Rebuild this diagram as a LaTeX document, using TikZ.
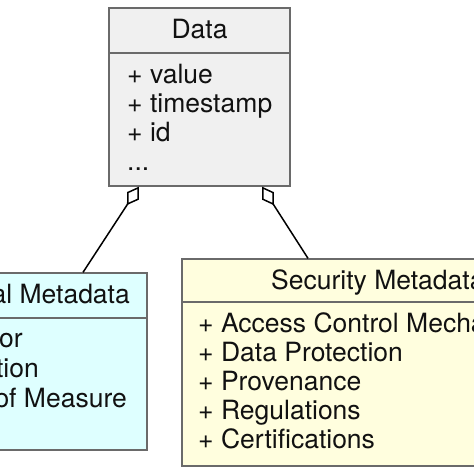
\documentclass[tikz,border=0pt]{standalone}
\usepackage{fontspec}
\setmainfont{TeX Gyre Heros}
\usetikzlibrary{arrows.meta}
\definecolor{databg}{HTML}{F0F0F0}
\definecolor{ctxbg}{HTML}{DEFFFF}
\definecolor{secbg}{HTML}{FFFEDE}
\definecolor{boxline}{HTML}{6A6A6A}
\definecolor{ink}{HTML}{111111}
\tikzstyle{classbox}=[rectangle,draw=boxline,line width=1.3pt,inner sep=0pt]
\tikzstyle{divider}=[draw=boxline,line width=1.3pt]
\tikzstyle{member}=[anchor=base west,inner sep=0pt,text=ink]
\tikzstyle{cut member}=[member,anchor=base east]
\tikzstyle{aggregation}=[draw,line width=1.5pt,{Diamond[open,length=22pt,width=14pt]}-]

\begin{document}
\begin{tikzpicture}[x=1pt,y=-1pt,font=\fontsize{26.5}{30}\selectfont]
    \useasboundingbox (0,0) rectangle (474,474);
    \fill[white] (0,0) rectangle (474,474);
    \clip (0,0) rectangle (474,474);

    % First we draw the class boxes and their header lines
    \foreach \pos/\name/\boxw/\boxh/\col in {{(199.5,97)/data/181/178/databg}, {(-3,361.5)/ctx/300/177/ctxbg}, {(371,362.5)/sec/378/207/secbg}}
        \node[classbox,fill=\col,minimum width=\boxw pt,minimum height=\boxh pt] (\name) at \pos {};
    \foreach \name/\y in {data/53, ctx/318, sec/302}
        \path[divider] (\name.west |- 0,\y) -- (\name.east |- 0,\y);

    % Class names
    \node[anchor=base,inner sep=0pt,text=ink] (dataname) at (199.5,38) {Data};
    \node[cut member] (ctxname) at (130,303) {al Metadata};
    \node[member] (secname) at (271,289) {Security Metadata};

    % Attributes
    \foreach \y/\txt in {83/+ value, 112/+ timestamp, 141/+ id}
        \node[member] (data\y) at (127,\y) {\txt};
    \node[member] (datamore) at (127,170) {...};
    \foreach \x/\y/\txt in {23/347/or, 39/377/tion, 127/407/of Measure}
        \node[cut member] (ctx\y) at (\x,\y) {\txt};
    \foreach \y/\txt in {332/+ Access Control Mecha, 361/+ Data Protection, 390/+ Provenance, 419/+ Regulations, 448/+ Certifications}
        \node[member] (sec\y) at (198,\y) {\txt};

    % Connect the classes
    \path[aggregation] (data.south -| 139,0) -- (ctx.north -| 83,0);
    \path[aggregation] (data.south -| 262,0) -- (sec.north -| 308,0);
\end{tikzpicture}
\end{document}
